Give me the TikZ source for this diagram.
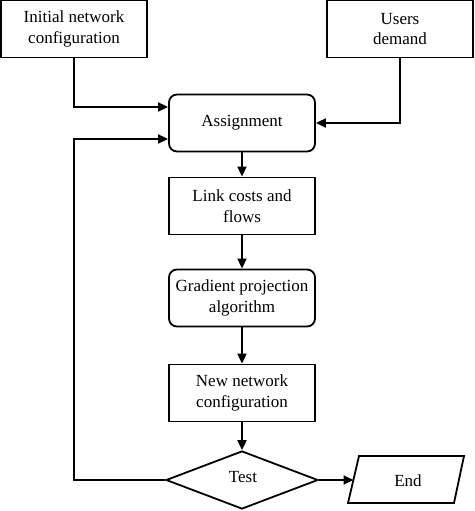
\documentclass[tikz,border=0pt]{standalone}
\usepackage{fontspec}
\setmainfont{Liberation Serif}
\usetikzlibrary{arrows.meta,shapes.geometric}
\tikzset{
  base/.style={draw, line width=1.8pt, align=center, inner sep=1pt,
    font=\fontsize{17}{20.5}\selectfont, minimum width=146pt, minimum height=57pt},
  sqbox/.style={base},
  rbox/.style={base, rounded corners=8pt},
  decide/.style={draw, line width=1.8pt, diamond, aspect=2.62, inner sep=0pt,
    minimum width=152pt, minimum height=58pt, font=\fontsize{17}{20.5}\selectfont},
  arr/.style={line width=1.8pt, -{Triangle[length=10pt,width=9pt]}},
  ln/.style={line width=1.8pt}
}
\begin{document}
\begin{tikzpicture}[x=1pt,y=-1pt]
\useasboundingbox (0,0) rectangle (474,511);
\node[sqbox] (init) at (74,29) {Initial network\\configuration};
\node[sqbox] (users) at (400,29) {Users\\demand};
\node[rbox] (assign) at (242,123) {Assignment};
\node[sqbox] (link) at (242,206) {Link costs and\\flows};
\node[rbox] (grad) at (242,298) {Gradient projection\\algorithm};
\node[sqbox] (newnet) at (242,393) {New network\\configuration};
\node[decide] (test) at (242,480) {};
\node[font=\fontsize{17}{20.5}\selectfont] (testlbl) at (243,477) {Test};
\node[font=\fontsize{17}{20.5}\selectfont] (end) at (408,481) {End};
\draw[ln] (348,503) -- (359,456) -- (464,456) -- (454,503) -- cycle;
\coordinate (endin) at (353.5,480);
\draw[arr] (init.south) |- ([yshift=16pt]assign.west);
\draw[arr] (users.south) |- (assign.east);
\draw[arr] (assign.south) -- (link.north);
\draw[arr] (link.south) -- (grad.north);
\draw[arr] (grad.south) -- (newnet.north);
\draw[arr] (newnet.south) -- (test.north);
\draw[arr] (test.west) -- (test.west -| init.south) |- ([yshift=-16pt]assign.west);
\draw[arr] (test.east) -- (endin);
\end{tikzpicture}
\end{document}
